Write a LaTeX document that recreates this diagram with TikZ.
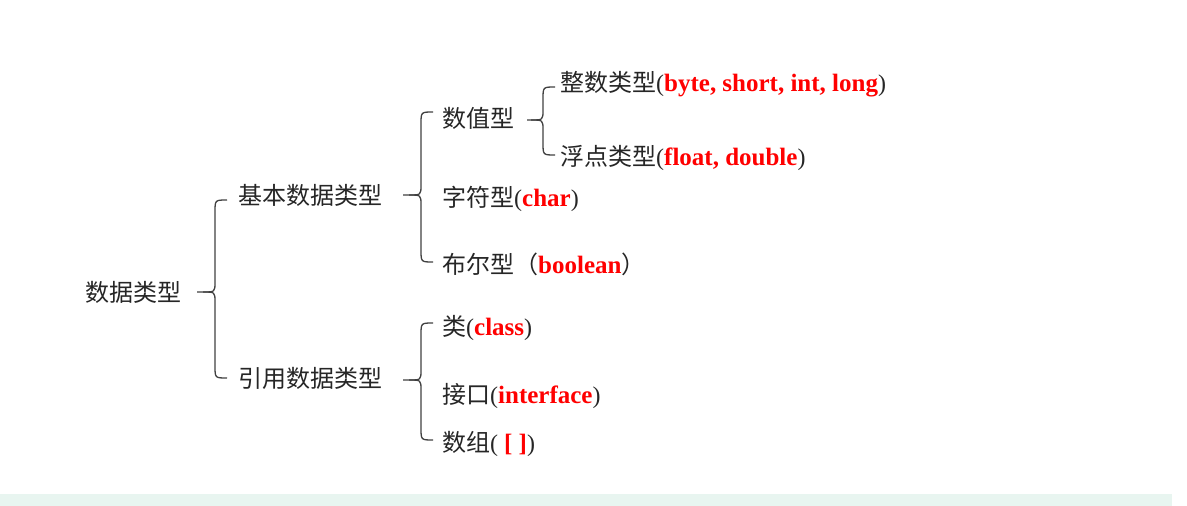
\documentclass[tikz,border=0pt]{standalone}
\usepackage{fontspec}
\newfontfamily\cjk{Noto Sans CJK SC}
\newfontfamily\lat{Liberation Serif}
\definecolor{strip}{HTML}{E8F5F0}
\definecolor{hl}{HTML}{FF0000}
\newcommand{\kwd}[1]{{\color{hl}\lat\bfseries\fontsize{25}{28}\selectfont #1}}
\begin{document}
\begin{tikzpicture}[x=1pt,y=-1pt,
  lbl/.style={anchor=west,inner sep=0pt,font=\fontsize{24}{28}\selectfont\cjk,text=black!85},
  brc/.style={line width=1.3pt,draw=black!75}]
\useasboundingbox (0,0) rectangle (1187,506);
\fill[strip] (0,494) rectangle (1172,506);
\newcommand{\bracedraw}[5]{% tipx, mid, x, top, bottom
  \draw[brc] (#3+12,#4) .. controls (#3,#4) .. (#3,#4+12) -- (#3,#2-10)
     .. controls (#3,#2) .. (#3-12,#2) -- (#1,#2);
  \draw[brc] (#3+12,#5) .. controls (#3,#5) .. (#3,#5-12) -- (#3,#2+10)
     .. controls (#3,#2) .. (#3-12,#2);}
\node[lbl] (root) at (85,292) {数据类型};
\node[lbl] (basic) at (238,195) {基本数据类型};
\node[lbl] (ref) at (238,378) {引用数据类型};
\node[lbl] (num) at (442,118) {数值型};
\node[lbl] (int) at (560,84) {整数类型{\lat(}\kwd{byte, short, int, long}{\lat)}};
\node[lbl] (flt) at (560,158) {浮点类型{\lat(}\kwd{float, double}{\lat)}};
\node[lbl] (chr) at (442,199) {字符型{\lat(}\kwd{char}{\lat)}};
\node[lbl] (bool) at (442,264) {布尔型（\kwd{boolean}）};
\node[lbl] (cls) at (442,328) {类{\lat(}\kwd{class}{\lat)}};
\node[lbl] (ifc) at (442,396) {接口{\lat(}\kwd{interface}{\lat)}};
\node[lbl] (arr) at (442,444) {数组{\lat( }\kwd{[ ]}{\lat )}};
\bracedraw{197}{292}{215}{200}{378}
\bracedraw{403}{195}{421}{112}{262}
\bracedraw{527}{120}{543}{87}{155}
\bracedraw{403}{380}{421}{323}{440}
\end{tikzpicture}
\end{document}
